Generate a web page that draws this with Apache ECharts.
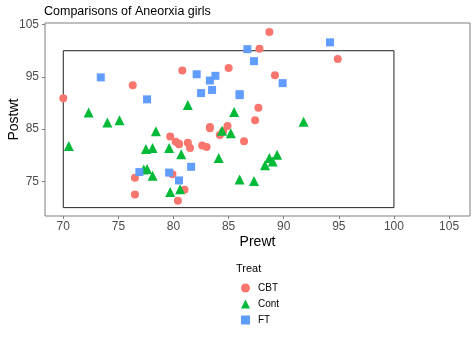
<!DOCTYPE html>
<html>
<head>
<meta charset="utf-8">
<script src="https://cdn.jsdelivr.net/npm/echarts@6/dist/echarts.min.js"></script>
<style>html,body{margin:0;padding:0;background:#fff}#c{width:474px;height:338px}</style>
</head>
<body>
<div id="c"></div>
<script>
// Data (MASS anorexia)
var contPre  = [80.7,89.4,91.8,74.0,78.1,88.3,87.3,75.1,80.6,78.4,77.6,88.7,81.3,78.1,70.5,77.3,85.2,86.0,84.1,79.7,85.5,84.4,79.6,77.5,72.3,89.0];
var contPost = [80.2,80.1,86.4,86.3,76.1,78.1,75.1,86.7,73.5,84.6,77.4,79.5,89.6,81.4,81.8,77.3,84.2,75.4,79.5,73.0,88.3,84.7,81.4,81.2,88.2,78.8];
var cbtPre   = [80.5,84.9,81.5,82.6,79.9,88.7,94.9,76.3,81.0,80.5,85.0,89.2,81.3,76.5,70.0,80.4,83.3,83.0,87.7,84.2,86.4,76.5,80.2,87.8,83.3,79.7,84.5,80.8,87.4];
var cbtPost  = [82.2,85.6,81.4,81.9,76.4,103.6,98.4,93.4,73.4,82.1,96.7,95.3,82.4,72.5,90.9,71.3,85.4,81.6,89.1,83.9,82.7,75.7,82.6,100.4,85.2,83.6,84.6,96.2,86.7];
var ftPre    = [83.8,83.3,86.0,82.5,86.7,79.6,76.9,94.2,73.4,80.5,81.6,82.1,77.6,83.5,89.9,86.0,87.3];
var ftPost   = [95.2,94.3,91.5,91.9,100.3,76.7,76.8,101.6,94.9,75.2,77.8,95.5,90.7,92.5,93.8,91.7,98.0];
var groups = ['CBT','Cont','FT'];
var xTicks = [70,75,80,85,90,95,100,105];
var yTicks = [75,85,95,105];
var refRect = [70,100,70,100]; // xmin,xmax,ymin,ymax

function pairs(a,b){return a.map(function(v,i){return [v,b[i]];});}
var colors = {CBT:'#F8766D', Cont:'#00BA38', FT:'#619CFF'};
var icons = {CBT:'circle', Cont:'triangle', FT:'rect'};

var chart = echarts.init(document.getElementById('c'), null, {renderer:'canvas'});
var FF = 'Liberation Sans, Arial, sans-serif';
var axisLabelStyle = {color:'#4d4d4d', fontSize:12, fontFamily:FF};
var option = {
  animation:false,
  backgroundColor:'#fff',
  title:[
    {text:'Comparisons of Aneorxia girls', left:44, top:5, padding:0,
     textStyle:{fontSize:12.5, fontWeight:'normal', color:'#000', fontFamily:FF}},
    {text:'Treat', left:236, top:263, padding:0,
     textStyle:{fontSize:11, fontWeight:'normal', color:'#000', fontFamily:FF}}
  ],
  grid:{left:45, right:4, top:23, bottom:122, containLabel:false, outerBoundsMode:'none',
    show:true, borderColor:'#7f7f7f', borderWidth:1, backgroundColor:'#fff'},
  xAxis:{type:'value', min:68.34, max:106.9, name:'Prewt', nameLocation:'middle', nameGap:19, nameMoveOverlap:false,
    nameTextStyle:{fontSize:14, color:'#000', fontFamily:FF},
    axisLine:{show:false}, splitLine:{show:false},
    axisTick:{show:true, length:3, lineStyle:{color:'#7f7f7f'}, customValues:xTicks},
    axisLabel:Object.assign({margin:5, customValues:xTicks}, axisLabelStyle)},
  yAxis:{type:'value', min:68.4, max:105.3, name:'Postwt', nameLocation:'middle', nameGap:24, nameRotate:90, nameMoveOverlap:false,
    nameTextStyle:{fontSize:14, color:'#000', fontFamily:FF},
    axisLine:{show:false}, splitLine:{show:false},
    axisTick:{show:true, length:3, lineStyle:{color:'#7f7f7f'}, customValues:yTicks},
    axisLabel:Object.assign({margin:6, customValues:yTicks}, axisLabelStyle)},
  legend:{orient:'vertical', left:241, top:283, padding:0, itemGap:6, itemWidth:9, itemHeight:9,
    data:groups.map(function(g){return {name:g, icon:icons[g]};}),
    textStyle:{fontSize:10, color:'#000', fontFamily:FF, padding:[0,0,0,3]}},
  series:[
    {type:'scatter', name:'rect', data:[], silent:true, z:1,
     markArea:{silent:true, itemStyle:{color:'rgba(0,0,0,0)', borderColor:'#222', borderWidth:1},
       data:[[{coord:[refRect[0],refRect[2]]},{coord:[refRect[1],refRect[3]]}]]}},
    {type:'scatter', name:'CBT', symbol:'circle', symbolSize:8, z:3, data:pairs(cbtPre,cbtPost), itemStyle:{color:colors.CBT, opacity:1}},
    {type:'scatter', name:'Cont', symbol:'triangle', symbolSize:10, z:3, data:pairs(contPre,contPost), itemStyle:{color:colors.Cont, opacity:1}},
    {type:'scatter', name:'FT', symbol:'rect', symbolSize:8, z:3, data:pairs(ftPre,ftPost), itemStyle:{color:colors.FT, opacity:1}}
  ]
};
chart.setOption(option);
</script>
</body>
</html>
